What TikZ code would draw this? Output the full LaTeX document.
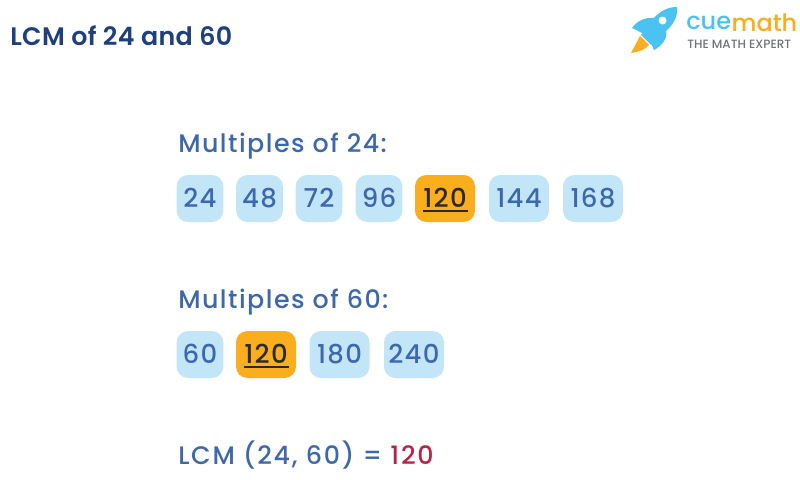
\documentclass[tikz,border=0pt]{standalone}
\usepackage{fontspec}
\setmainfont{Poppins Medium}
\newfontfamily\spacedfont[LetterSpace=5.8]{Poppins Medium}
\newfontfamily\numfont[LetterSpace=5]{Poppins Medium}
\newfontfamily\resultfont[LetterSpace=6.8]{Poppins Medium}
\newfontfamily\logofont[LetterSpace=0]{Poppins Medium}
\newfontfamily\titlefont[LetterSpace=1.5]{Poppins SemiBold}
\definecolor{titleblue}{HTML}{1F3F80}
\definecolor{textblue}{HTML}{3D68AE}
\definecolor{boxblue}{HTML}{C2E6F8}
\definecolor{boxorange}{HTML}{FBAE1D}
\definecolor{darktext}{HTML}{2B2A28}
\definecolor{crimson}{HTML}{BE2046}
\definecolor{rocketblue}{HTML}{4AC2F2}
\definecolor{logogrey}{HTML}{6F7376}
\tikzset{
    numbox/.style={rounded corners=8.5pt,fill=boxblue,text=textblue,minimum height=35.25pt,inner sep=0pt,text height=13.5pt,text depth=0pt,font=\numfont\fontsize{19.5}{20}\selectfont},
    smallbox/.style={numbox,minimum width=35pt},
    widebox/.style={numbox,minimum width=45pt},
    hitbox/.style={widebox,fill=boxorange,text=darktext},
    hitline/.style={darktext,line width=1.3pt},
    heading/.style={anchor=west,inner sep=0pt,text=textblue,font=\spacedfont\fontsize{19}{20}\selectfont}
}
\begin{document}
\begin{tikzpicture}[x=0.75pt,y=-0.75pt]
    \useasboundingbox(0,0)rectangle(800,479);

    \node[anchor=west,inner sep=0pt,text=titleblue,font=\titlefont\fontsize{19}{20}\selectfont](title)at(10,36){LCM of 24 and 60};

    % rocket
    \fill[boxorange](631,53)--(640,36)--(649,45)..controls(645,50)and(638,52)..(631,53)--cycle;
    \fill[rocketblue](632,28)..controls(637,21)and(645,17)..(654,18)--(644,34)--cycle;
    \fill[rocketblue](654,18)..controls(660,11)and(668,7)..(677,7)..controls(678,16)and(674,24)..(666,31)--(651,45)--(641,35)--cycle;
    \fill[rocketblue](666,31)..controls(668,38)and(662,46)..(654,50)--(650,41)--cycle;
    \fill[white](662.5,20.5)circle(4);
    \node[inner sep=0pt,anchor=west,text=rocketblue,font=\logofont\fontsize{18}{18}\selectfont](cue)at(686,23){cue};
    \node[inner sep=0pt,anchor=west,text=boxorange,font=\logofont\fontsize{18}{18}\selectfont](math)at(cue.east){math};
    \node[inner sep=0pt,anchor=west,text=logogrey,font=\logofont\fontsize{9}{9}\selectfont](expert)at(687,44){THE MATH EXPERT};

    \node[heading](headone)at(178,146){Multiples of 24:};
    \node[smallbox](a)at(200,198.5){24};
    \node[smallbox](b)at(259.5,198.5){48};
    \node[smallbox](c)at(319,198.5){72};
    \node[smallbox](d)at(379,198.5){96};
    \node[hitbox](e)at(445,198.5){120};
    \draw[hitline]([xshift=6pt,yshift=8.25pt]e.south west)--([xshift=-5.25pt,yshift=8.25pt]e.south east);
    \node[widebox](f)at(519,198.5){144};
    \node[widebox](g)at(593,198.5){168};

    \node[heading](headtwo)at(178,302){Multiples of 60:};
    \node[smallbox](h)at(200,354.5){60};
    \node[hitbox](i)at(266,354.5){120};
    \draw[hitline]([xshift=6pt,yshift=8.25pt]i.south west)--([xshift=-5.25pt,yshift=8.25pt]i.south east);
    \node[widebox](j)at(339.5,354.5){180};
    \node[widebox](k)at(414,354.5){240};

    \node[heading,font=\resultfont\fontsize{19}{20}\selectfont](result)at(178,455){LCM (24, 60) = \textcolor{crimson}{120}};
\end{tikzpicture}
\end{document}
